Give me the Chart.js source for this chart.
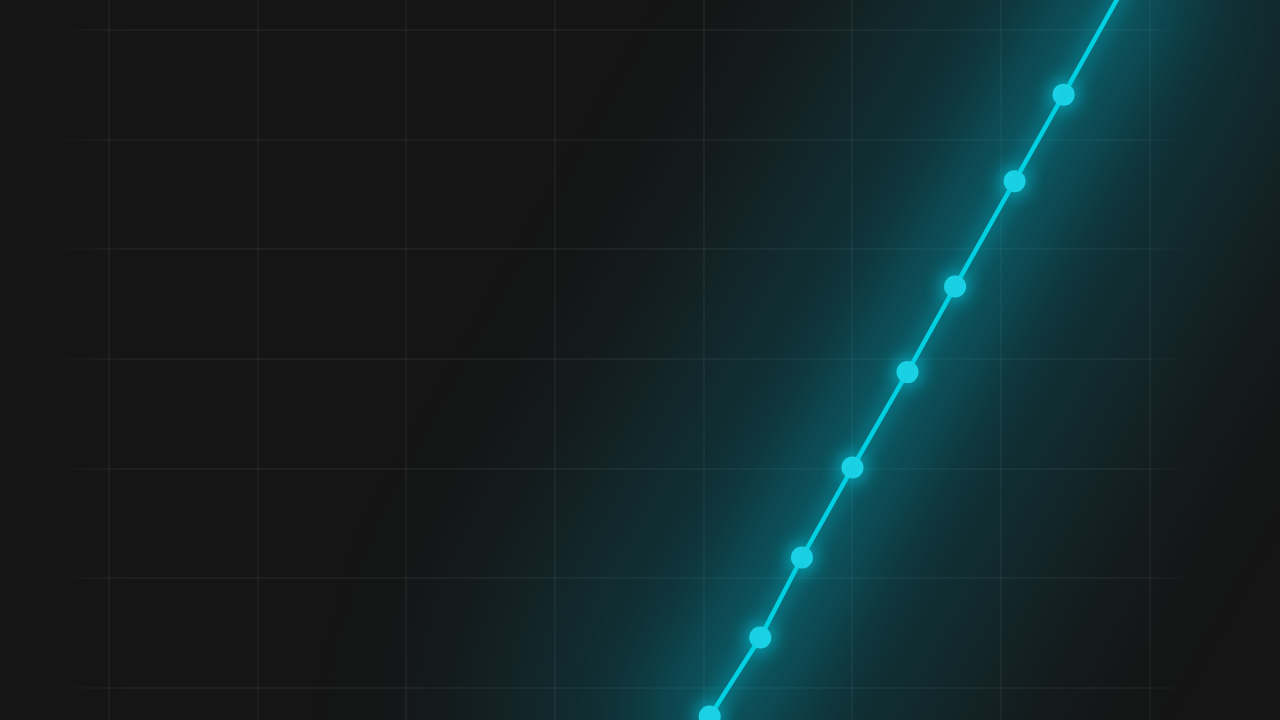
<!DOCTYPE html>
<html>
<head>
<meta charset="utf-8">
<script src="https://cdn.jsdelivr.net/npm/chart.js@4.4.1/dist/chart.umd.min.js"></script>
<style>
  html, body { margin: 0; padding: 0; background: #151515; overflow: hidden; }
  #wrap { width: 1280px; height: 720px; position: relative; }
</style>
</head>
<body>
<div id="wrap"><canvas id="c"></canvas></div>
<script>
// ---- data (grid units) ----
const xValues = [4.04, 4.38, 4.66, 5.00, 5.37, 5.69, 6.09, 6.42, 6.85];
const yValues = [-0.26, 0.46, 1.19, 2.01, 2.88, 3.66, 4.62, 5.41, 6.45];
const xTicks = [0, 1, 2, 3, 4, 5, 6, 7];
const yTicks = [0, 1, 2, 3, 4, 5, 6];

const points = xValues.map((x, i) => ({ x: x, y: yValues[i] }));

const bgPlugin = {
  id: 'bg',
  beforeDraw(chart) {
    const ctx = chart.ctx;
    ctx.save();
    ctx.fillStyle = '#151515';
    ctx.fillRect(0, 0, chart.width, chart.height);
    ctx.restore();
  }
};

const glowPlugin = {
  id: 'glow',
  beforeDatasetDraw(chart, args) {
    const ctx = chart.ctx;
    ctx.save();
    const ds = chart.data.datasets[args.index];
    if (ds.blur) ctx.filter = 'blur(' + ds.blur + 'px)';
    if (ds.shadow) { ctx.shadowColor = ds.shadow; ctx.shadowBlur = 20; }
  },
  afterDatasetDraw(chart) {
    chart.ctx.restore();
  }
};

function hGridColor(ctx) {
  const chart = ctx.chart;
  const g = chart.ctx.createLinearGradient(0, 0, chart.width, 0);
  g.addColorStop(0.04, 'rgba(255,255,255,0)');
  g.addColorStop(0.10, 'rgba(255,255,255,0.045)');
  g.addColorStop(0.89, 'rgba(255,255,255,0.045)');
  g.addColorStop(0.93, 'rgba(255,255,255,0)');
  return g;
}

new Chart(document.getElementById('c'), {
  type: 'line',
  data: {
    datasets: [
      {
        data: points, blur: 90,
        borderColor: 'rgba(0,150,175,0.24)', borderWidth: 420,
        borderCapStyle: 'round', borderJoinStyle: 'round',
        pointRadius: 0, tension: 0
      },
      {
        data: points, blur: 40,
        borderColor: 'rgba(0,190,215,0.30)', borderWidth: 110,
        borderCapStyle: 'round', borderJoinStyle: 'round',
        pointRadius: 0, tension: 0
      },
      {
        data: points, shadow: 'rgba(0,240,255,1)',
        borderColor: '#00eefa', borderWidth: 4.5,
        pointRadius: 11, pointBackgroundColor: '#2ff0ff',
        pointBorderWidth: 0, tension: 0
      }
    ]
  },
  options: {
    responsive: true,
    maintainAspectRatio: false,
    animation: false,
    events: [],
    layout: { padding: 0, autoPadding: false },
    plugins: { legend: { display: false }, tooltip: { enabled: false } },
    scales: {
      x: {
        type: 'linear', min: -0.733, max: 7.875,
        afterBuildTicks(scale) { scale.ticks = xTicks.map(v => ({ value: v })); },
        ticks: { display: false },
        border: { display: false },
        grid: { color: 'rgba(255,255,255,0.045)', lineWidth: 2, drawTicks: false }
      },
      y: {
        type: 'linear', min: -0.292, max: 6.273,
        afterBuildTicks(scale) { scale.ticks = yTicks.map(v => ({ value: v })); },
        ticks: { display: false },
        border: { display: false },
        grid: { color: hGridColor, lineWidth: 2, drawTicks: false }
      }
    }
  },
  plugins: [bgPlugin, glowPlugin]
});
</script>
</body>
</html>
